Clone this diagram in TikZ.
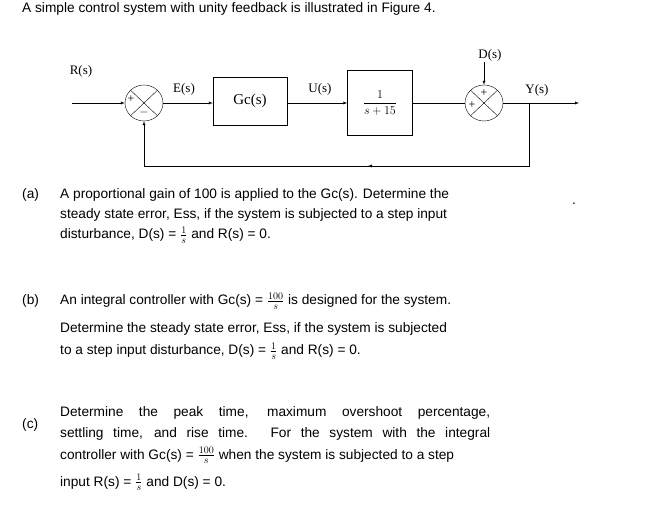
\documentclass[tikz,border=0pt]{standalone}
\usepackage{fontspec}
\setmainfont{Liberation Sans}
\newfontfamily\tms{Liberation Serif}
\usetikzlibrary{shapes.geometric,decorations.markings}
\begin{document}
\begin{tikzpicture}[x=1pt,y=-1pt,
  txt/.style={anchor=base west,inner sep=0pt,font=\fontsize{13.7}{16}\selectfont},
  lbl/.style={inner sep=0pt,font=\tms\fontsize{13}{15}\selectfont},
  blk/.style={draw,minimum width=#1,inner sep=0pt},
  sum/.style={draw,ellipse,minimum width=38,minimum height=36,inner sep=0pt,
    path picture={\draw (path picture bounding box.north west)--(path picture bounding box.south east)
      (path picture bounding box.north east)--(path picture bounding box.south west);}},
  arr/.style={-latex}]
\useasboundingbox (0,0) rectangle (669,510);
\node[txt] (title) at (22,13) {A simple control system with unity feedback is illustrated in Figure 4.};
% block diagram
\coordinate (in) at (72,103);
\node[sum] (s1) at (144,103) {};
\node[lbl,font=\tms\fontsize{12}{12}\selectfont] at (131,99) {+};
\node[lbl,font=\tms\fontsize{12}{12}\selectfont] at (144,113) {$-$};
\node[blk=74,minimum height=48,lbl,font=\tms\fontsize{15}{17}\selectfont] (gc) at (250,101) {Gc(s)};
\node[blk=65,minimum height=65] (g) at (380,103) {\tms\fontsize{13}{15}\selectfont$\displaystyle\frac{1}{s+15}$};
\node[sum] (s2) at (484,103) {};
\node[lbl,font=\tms\fontsize{12}{12}\selectfont] at (484,93) {+};
\node[lbl,font=\tms\fontsize{12}{12}\selectfont] at (472,105) {+};
\coordinate (dtop) at (484,62);
\coordinate (br) at (529,103);
\coordinate (out) at (579,103);
\coordinate (fb1) at (529,166);
\coordinate (fb2) at (144,166);
\node[lbl] (R) at (81,71) {R(s)};
\node[lbl] (E) at (184,89) {E(s)};
\node[lbl] (U) at (320,89) {U(s)};
\node[lbl] (D) at (490,55) {D(s)};
\node[lbl] (Y) at (537,90) {Y(s)};
\draw[arr] (in) -- (s1.west);
\draw[arr] (s1.east) -- (gc.west |- s1.east);
\draw[arr] (gc.east |- g.west) -- (g.west);
\draw (g.east) -- (s2.west);
\draw[arr] (dtop) -- (s2.north);
\draw[arr] (s2.east) -- (out);
\draw[postaction={decorate},decoration={markings,mark=at position 0.5 with {\arrow{latex}}}]
  (br) -- (fb1) -- (fb2);
\draw[arr] (fb2) -- (s1.south);
% questions
\node[txt] at (22,199) {(a)};
\node[txt] at (60,199) {A proportional gain of 100 is applied to the Gc(s). Determine the};
\node[txt] at (60,219) {steady state error, Ess, if the system is subjected to a step input};
\node[txt] at (60,239) {disturbance, D(s) = $\frac{1}{s}$ and R(s) = 0.};
\node[txt] at (572,205) {.};
\node[txt] at (22,305) {(b)};
\node[txt] at (60,305) {An integral controller with Gc(s) = $\frac{100}{s}$ is designed for the system.};
\node[txt] at (60,333) {Determine the steady state error, Ess, if the system is subjected};
\node[txt] at (60,355) {to a step input disturbance, D(s) = $\frac{1}{s}$ and R(s) = 0.};
\node[txt] at (22,428) {(c)};
\node[txt] at (60,416) {\makebox[430pt][s]{Determine the peak time, maximum overshoot percentage,}};
\node[txt] at (60,437) {\makebox[430pt][s]{settling time, and rise time. For the system with the integral}};
\node[txt] at (60,459) {controller with Gc(s) = $\frac{100}{s}$ when the system is subjected to a step};
\node[txt] at (60,486) {input R(s) = $\frac{1}{s}$ and D(s) = 0.};
\end{tikzpicture}
\end{document}
